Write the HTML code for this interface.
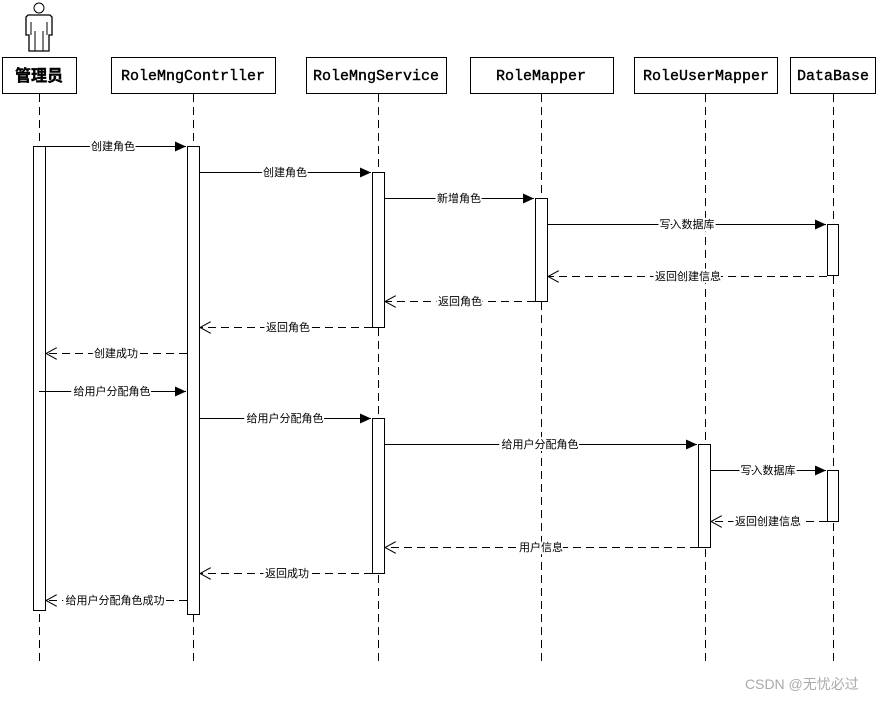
<!DOCTYPE html>
<html><head><meta charset="utf-8"><style>
body{margin:0;background:#fff}
svg text{font-family:"Liberation Sans","Noto Sans CJK SC",sans-serif;font-size:11px;fill:#000}
.h{font-family:"Liberation Mono","Noto Sans CJK SC",monospace;font-size:15px;font-weight:normal}
</style></head><body>
<svg width="879" height="700" viewBox="0 0 879 700" xmlns="http://www.w3.org/2000/svg">
<defs>
<marker id="f" markerWidth="12" markerHeight="10" refX="11" refY="5" orient="auto" markerUnits="userSpaceOnUse"><path d="M0,0 L11,5 L0,10z" fill="#000"/></marker>
<marker id="o" markerWidth="12" markerHeight="12" refX="11" refY="6" orient="auto" markerUnits="userSpaceOnUse"><path d="M0,0 L11,6 L0,12" fill="none" stroke="#000"/></marker>
</defs>
<g stroke="#000" fill="none">
<circle cx="39" cy="8" r="5"/>
<path d="M28,15 H50 L52,17 V35 H49 V51 H29 V35 H26 V17 Z" stroke-width="1.3"/>
<path d="M35,51 V31 M43,51 V31 M31,35 V22 M47,35 V22"/>
<rect x="2.5" y="57.5" width="74" height="36"/>
<rect x="111.5" y="57.5" width="164" height="36"/>
<rect x="306.5" y="57.5" width="140" height="36"/>
<rect x="470.5" y="57.5" width="143" height="36"/>
<rect x="634.5" y="57.5" width="143" height="36"/>
<rect x="790.5" y="57.5" width="85" height="36"/>
<g stroke-dasharray="8,5">
<path d="M39.5,94 V662 M193.5,94 V662 M378.5,94 V662 M541.5,94 V662 M705.5,94 V662 M833.5,94 V662"/>
</g>
</g>
<g fill="#fff" stroke="#000">
<rect x="33.5" y="146.5" width="12" height="464"/>
<rect x="187.5" y="146.5" width="12" height="468"/>
<rect x="372.5" y="172.5" width="12" height="155"/>
<rect x="372.5" y="418.5" width="12" height="155"/>
<rect x="535.5" y="198.5" width="12" height="103"/>
<rect x="827.5" y="224.5" width="11" height="51"/>
<rect x="698.5" y="444.5" width="12" height="103"/>
<rect x="827.5" y="470.5" width="11" height="51"/>
</g>
<g text-anchor="middle" stroke="#000" stroke-width="0.4">
<text class="h" x="39" y="81" style="font-weight:bold;font-size:16px">管理员</text>
<text class="h" x="193" y="80">RoleMngContrller</text>
<text class="h" x="376" y="80">RoleMngService</text>
<text class="h" x="541" y="80">RoleMapper</text>
<text class="h" x="706" y="80">RoleUserMapper</text>
<text class="h" x="833" y="80">DataBase</text>
</g>
<g stroke="#000">
<path d="M45,146.5 H186" marker-end="url(#f)"/>
<path d="M199,172.5 H371" marker-end="url(#f)"/>
<path d="M384,198.5 H534" marker-end="url(#f)"/>
<path d="M547,224.5 H826" marker-end="url(#f)"/>
<path d="M39,391.5 H186" marker-end="url(#f)"/>
<path d="M199,418.5 H371" marker-end="url(#f)"/>
<path d="M384,444.5 H697" marker-end="url(#f)"/>
<path d="M710,470.5 H826" marker-end="url(#f)"/>
<g stroke-dasharray="8,5">
<path d="M827,276.5 H548" marker-end="url(#o)"/>
<path d="M535,301.5 H385" marker-end="url(#o)"/>
<path d="M372,327.5 H200" marker-end="url(#o)"/>
<path d="M187,353.5 H46" marker-end="url(#o)"/>
<path d="M827,521.5 H711" marker-end="url(#o)"/>
<path d="M698,547.5 H385" marker-end="url(#o)"/>
<path d="M372,573.5 H200" marker-end="url(#o)"/>
<path d="M187,600.5 H46" marker-end="url(#o)"/>
</g>
</g>
<g text-anchor="middle" style="paint-order:stroke" stroke="#fff" stroke-width="4">
<text x="113" y="150">创建角色</text>
<text x="285" y="176">创建角色</text>
<text x="459" y="202">新增角色</text>
<text x="687" y="228">写入数据库</text>
<text x="688" y="280">返回创建信息</text>
<text x="460" y="305">返回角色</text>
<text x="288" y="331">返回角色</text>
<text x="116" y="357">创建成功</text>
<text x="112" y="395">给用户分配角色</text>
<text x="285" y="422">给用户分配角色</text>
<text x="540" y="448">给用户分配角色</text>
<text x="768" y="474">写入数据库</text>
<text x="768" y="525">返回创建信息</text>
<text x="541" y="551">用户信息</text>
<text x="287" y="577">返回成功</text>
<text x="115" y="604">给用户分配角色成功</text>
</g>
<text x="745" y="689" style="font-size:14px;fill:#aaa">CSDN @无忧必过</text>
</svg>
</body></html>
